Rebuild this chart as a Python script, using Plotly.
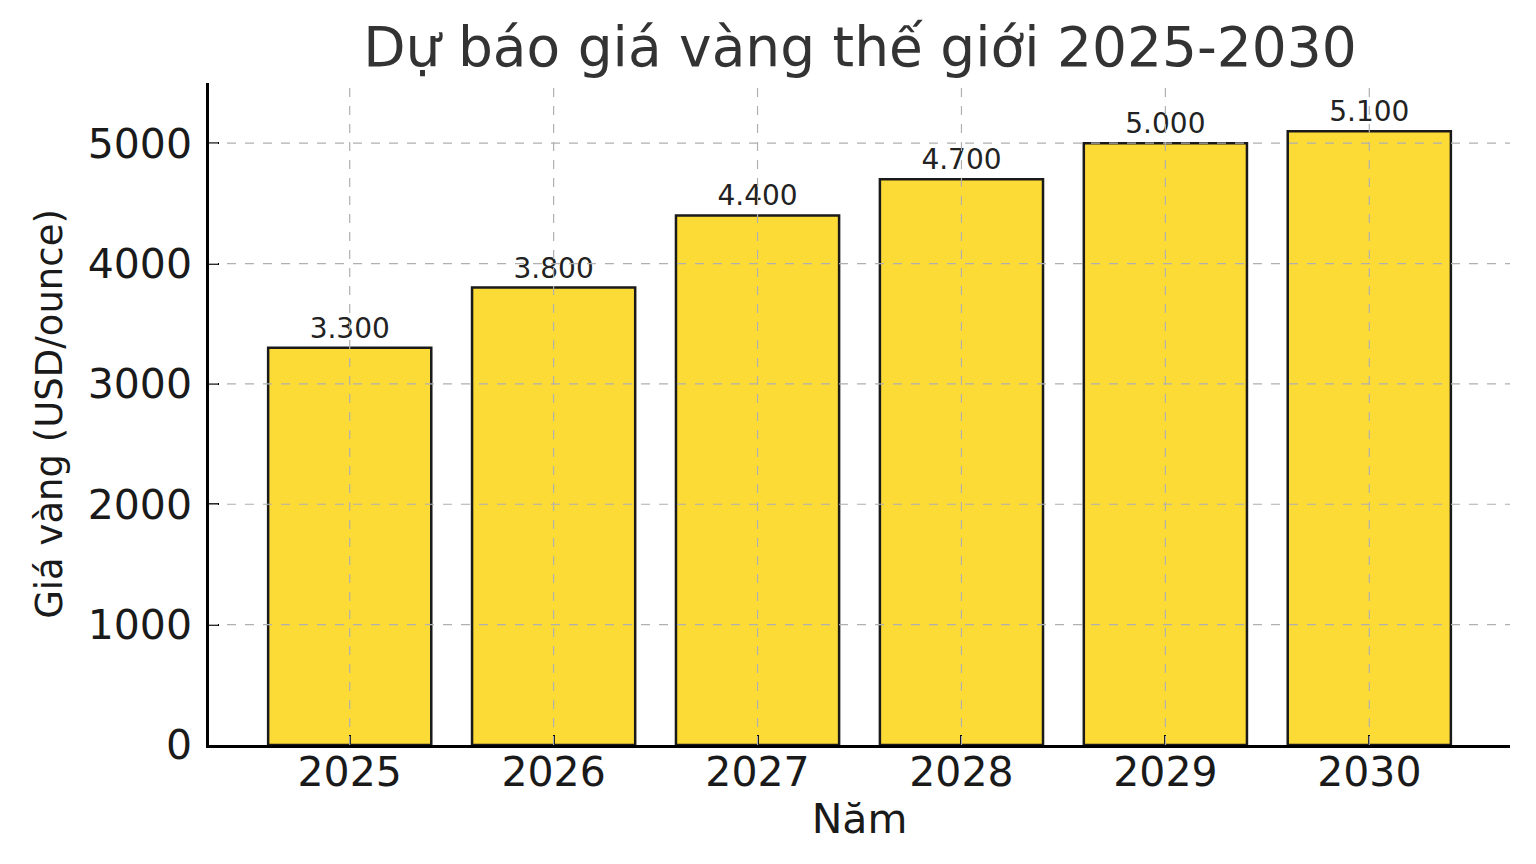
import plotly.graph_objects as go

# ---- data ----
years = ["2025", "2026", "2027", "2028", "2029", "2030"]
prices = [3300, 3800, 4400, 4700, 5000, 5100]
y_ticks = [0, 1000, 2000, 3000, 4000, 5000]

FONT = "DejaVu Sans"
GRID = "#b0b0b0"

fig = go.Figure()

fig.add_trace(go.Bar(
    x=list(range(len(years))), y=prices,
    width=0.8,
    marker=dict(color="#FDDB36", line=dict(color="#1a1a1a", width=2.5)),
    texttemplate="%{y:,.0f}", textposition="outside",
    textfont=dict(family=FONT, size=28, color="#222222"),
    cliponaxis=False,
))

# matplotlib-style grid drawn on top of the bars
for t in y_ticks[1:]:
    fig.add_hline(y=t, line=dict(color=GRID, width=1.2, dash="dash"), layer="above")
for i in range(len(years)):
    fig.add_vline(x=i, line=dict(color=GRID, width=1.2, dash="dash"), layer="above")

# page body has an 8px margin, so the figure is 8px smaller than the window
fig.update_layout(
    width=1528, height=856,
    margin=dict(l=201, r=26, t=75, b=119),
    plot_bgcolor="white", paper_bgcolor="white",
    separators=",.",
    showlegend=False,
    font=dict(family=FONT, color="#1a1a1a"),
    title=dict(
        text="Dự báo giá vàng thế giới 2025-2030",
        font=dict(family=FONT, size=55, color="#333333"),
        x=0.5576, xanchor="center", y=0.9544, yanchor="middle", yref="container",
    ),
)

fig.update_xaxes(
    range=[-0.69, 5.69],
    tickmode="array", tickvals=list(range(len(years))), ticktext=years,
    ticks="inside", ticklen=10, tickwidth=2, tickcolor="black",
    showline=True, linecolor="black", linewidth=2.5,
    showgrid=False, zeroline=False,
    tickfont=dict(family=FONT, size=41, color="#1a1a1a"),
    ticklabelstandoff=-11,
    title=dict(text="Năm", font=dict(family=FONT, size=41, color="#1a1a1a"), standoff=10),
)
fig.update_yaxes(
    range=[0, 5500],
    tickmode="array", tickvals=y_ticks,
    ticks="inside", ticklen=10, tickwidth=2, tickcolor="black",
    showline=True, linecolor="black", linewidth=2.5,
    showgrid=False, zeroline=False,
    tickfont=dict(family=FONT, size=41, color="#1a1a1a"),
    ticklabelstandoff=6,
    title=dict(text="Giá vàng (USD/ounce)", font=dict(family=FONT, size=37, color="#1a1a1a"), standoff=14),
)

fig.write_html("out.html")
